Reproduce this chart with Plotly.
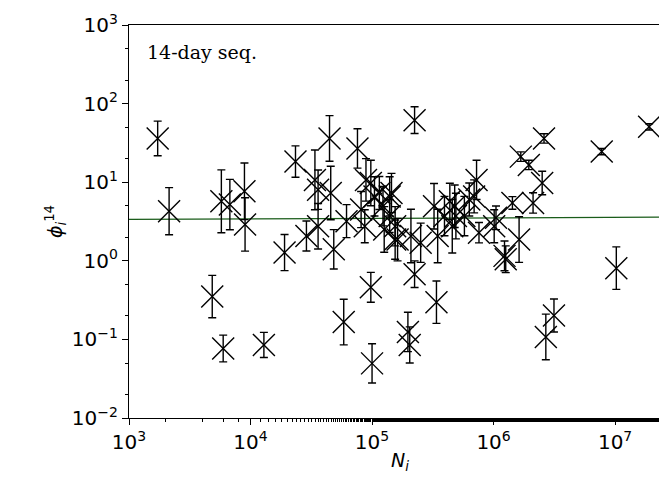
import plotly.graph_objects as go
import numpy as np

# log10 values
log_N = [3.236,3.33,3.685,3.775,4.11,3.76,3.83,3.95,3.955,4.28,4.37,4.46,4.53,4.556,4.556,4.65,4.66,4.685,4.767,4.79,
         4.88,4.91,4.94,4.95,4.99,4.99,5.0,5.02,5.06,5.09,5.10,5.145,5.19,5.145,
         5.35,5.16,5.19,5.21,5.32,5.35,5.295,5.31,5.40,5.51,5.54,5.53,5.596,5.64,5.68,5.66,5.69,5.76,5.80,5.84,5.86,5.88,
         6.005,6.02,6.10,6.21,6.155,6.224,6.29,6.415,6.40,6.325,6.43,6.497,6.89,7.01,7.28,6.09]
log_phi = [1.558,0.632,-0.455,-1.116,-1.07,0.758,0.716,0.884,0.463,0.105,1.263,0.316,1.03,0.44,0.905,1.558,0.863,0.147,-0.779,0.505,
           1.43,0.653,0.44,1.03,0.99,-0.337,-1.305,0.82,0.863,0.695,0.40,0.82,0.27,0.57,
           1.79,0.863,0.44,0.27,0.316,-0.17,-0.905,-1.07,0.23,0.695,0.316,-0.526,0.57,0.758,0.695,0.44,0.57,0.57,0.78,0.82,1.03,0.358,
           0.44,0.547,0.02,0.27,0.737,1.326,1.22,1.558,0.99,0.737,-0.968,-0.695,1.39,-0.093,1.705,0.063]
log_err = [0.22,0.30,0.27,0.17,0.16,0.40,0.32,0.36,0.34,0.23,0.20,0.19,0.38,0.29,0.25,0.29,0.34,0.25,0.29,0.21,
           0.25,0.23,0.21,0.27,0.29,0.19,0.25,0.25,0.21,0.25,0.29,0.25,0.25,0.21,
           0.17,0.25,0.25,0.27,0.34,0.17,0.25,0.23,0.25,0.29,0.34,0.27,0.25,0.23,0.27,0.34,0.29,0.25,0.21,0.21,0.25,0.13,
           0.21,0.15,0.17,0.29,0.08,0.06,0.06,0.06,0.15,0.13,0.29,0.21,0.04,0.27,0.04,0.19]
fit_N = [1e3, 3e7]
fit_phi = [3.36, 3.6]
x_exps = [3, 4, 5, 6, 7]
y_exps = [-2, -1, 0, 1, 2, 3]

N = 10**np.array(log_N)
phi = 10**np.array(log_phi)
up = phi*(10**np.array(log_err)-1)
dn = phi*(1-10**(-np.array(log_err)))

font = "DejaVu Sans"
fig = go.Figure()
fig.add_trace(go.Scatter(x=fit_N, y=fit_phi, mode="lines", line=dict(color="#1a5c1a", width=1.3), showlegend=False))
fig.add_trace(go.Scatter(x=N, y=phi, mode="markers",
    marker=dict(symbol="x-thin-open", size=22, line=dict(color="black", width=1.4), color="black"),
    error_y=dict(type="data", symmetric=False, array=up, arrayminus=dn, color="black", thickness=1.4, width=4),
    showlegend=False))
ax = dict(type="log", showgrid=False, zeroline=False, showline=True, linecolor="black", linewidth=1.2,
          mirror=True, ticks="outside", ticklen=6, tickcolor="black",
          tickfont=dict(family=font, size=20, color="black"),
          minor=dict(ticks="outside", ticklen=3, tickcolor="black", showgrid=False))
fig.update_xaxes(**ax, range=[3, 7.46], tickvals=[10.0**e for e in x_exps],
                 ticktext=[f"10<sup>{e}</sup>" for e in x_exps],
                 title=dict(text="<i>N<sub>i</sub></i>", font=dict(family=font, size=19, color="black"), standoff=0))
fig.update_yaxes(**ax, range=[-2, 3.001], tickvals=[10.0**e for e in y_exps],
                 ticktext=[f"10<sup>{e}</sup>".replace("-", "−") for e in y_exps],
                 title=dict(text="<i>ϕ<sub>i</sub></i><sup>14</sup>", font=dict(family=font, size=19, color="black"), standoff=4))
fig.add_annotation(text="14-day seq.", xref="paper", yref="paper", x=0.03, y=0.965, xanchor="left", yanchor="top",
                   showarrow=False, font=dict(family="DejaVu Serif", size=19, color="black"))
fig.update_layout(width=667, height=481, margin=dict(l=121, r=3, t=15, b=71), plot_bgcolor="white", paper_bgcolor="white")
fig.write_html("out.html")
